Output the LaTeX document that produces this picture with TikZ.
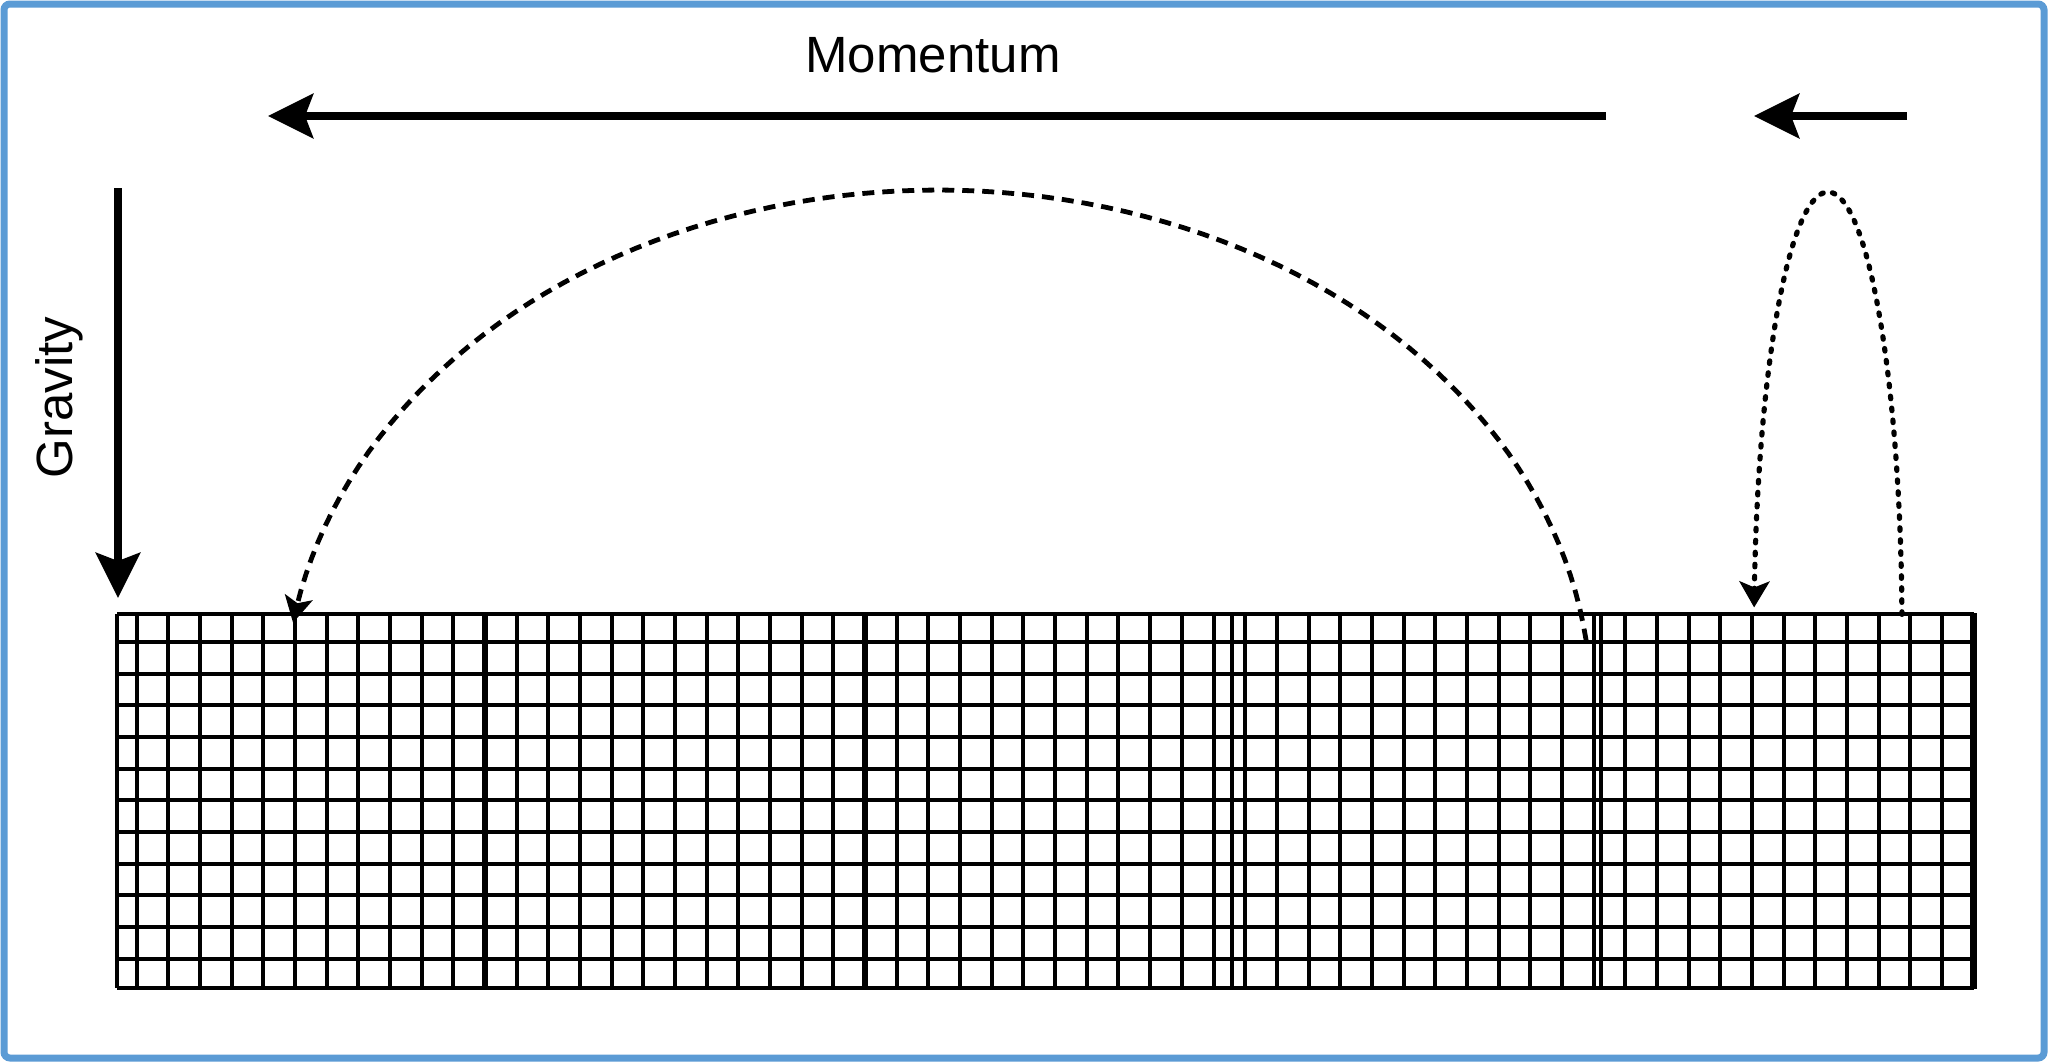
\documentclass[tikz,border=0pt]{standalone}
\usepackage{fontspec}
\setmainfont{Liberation Sans}
\usetikzlibrary{arrows.meta}
\definecolor{frameblue}{RGB}{91,155,213}
\begin{document}
\begin{tikzpicture}[x=0.5pt,y=-0.5pt,
  bigarrow/.style={line width=4.2pt, -{Stealth[length=22.5pt,width=22pt,inset=4pt]}},
  gridline/.style={line width=2pt},
  thickgrid/.style={line width=3.3pt},
  bigdash/.style={line width=2.4pt, dash pattern=on 6pt off 4pt, -{Stealth[length=13pt,width=14pt,inset=3pt]}},
  smalldash/.style={line width=2.6pt, line cap=round, dash pattern=on 1.3pt off 4.7pt, -{Stealth[length=13pt,width=15pt,inset=3pt]}},
  lbl/.style={font=\fontsize{25.5}{30}\selectfont, inner sep=0pt}]
\useasboundingbox (0,0) rectangle (2048,1062);
\fill[white] (0,0) rectangle (2048,1062);
\draw[frameblue, line width=3.5pt, rounded corners=3pt] (4,4) rectangle (2044,1058);

% grid
\foreach \k in {0,...,57} {
  \draw[gridline] ({136.7+31.67*\k},614) -- ({136.7+31.67*\k},988);
}
\foreach \j in {0,...,10} {
  \draw[gridline] (117,{642+31.67*\j}) -- (1973.6,{642+31.67*\j});
}
\draw[gridline] (1232,614) -- (1232,988);
\draw[gridline] (1601,614) -- (1601,988);
\draw[gridline] (117,614) -- (1973.6,614);
\draw[gridline] (117,988) -- (1973.6,988);
\draw[gridline] (117,614) -- (117,988);
\draw[thickgrid] (485.1,614) -- (485.1,988);
\draw[thickgrid] (865.1,614) -- (865.1,988);
\draw[thickgrid] (1973.6,613) -- (1973.6,989);

% labels
\node[lbl, anchor=base] (mom) at (933,72) {Momentum};
\node[lbl, rotate=90, anchor=base] (grav) at (72,397.5) {Gravity};

% straight arrows
\coordinate (mR) at (1606,116);
\coordinate (mL) at (268,116);
\coordinate (sR) at (1907,116);
\coordinate (sL) at (1754,116);
\coordinate (gT) at (118,188);
\coordinate (gB) at (118,598);
\draw[bigarrow] (mR) -- (mL);
\draw[bigarrow] (sR) -- (sL);
\draw[bigarrow] (gT) -- (gB);

% dashed trajectories
\draw[bigdash] plot[domain=7:171, samples=90] ({938+653*cos(\x)}, {703-513*sin(\x)});
\draw[smalldash] plot[domain=2.3:176.8, samples=90] ({1828+74*cos(\x)}, {632-440*sin(\x)});
\end{tikzpicture}
\end{document}
